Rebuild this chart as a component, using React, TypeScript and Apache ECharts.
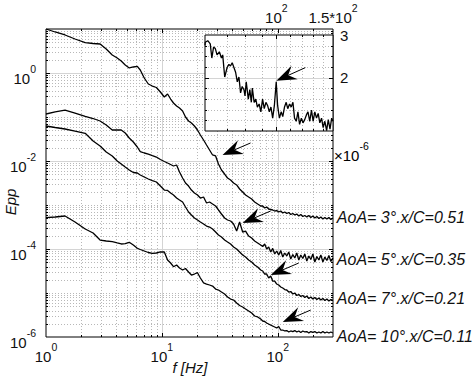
import React, { useEffect, useRef } from "react";
import * as echarts from "echarts";

const FONT = '"Liberation Sans", Arial, Helvetica, sans-serif';

// frequency grid (Hz) shared by the four spectra
const freqHz = [
  1, 1.2, 1.46, 1.78, 2.18, 2.55, 2.93, 3.31, 3.73, 4.12,
  4.46, 4.83, 5.23, 5.67, 6.14, 6.51, 7.05, 7.64, 8.28, 8.97,
  9.71, 10.5, 11.2, 11.9, 12.6, 13.4, 14.2, 15.1, 16.0, 17.0,
  18.0, 19.1, 20.3, 21.5, 22.9, 24.3, 25.8, 27.4, 29.1, 30.8,
  32.7, 34.8, 36.9, 39.2, 41.6, 44.2, 46.9, 49.8, 52.8, 56.1,
  59.6, 63.2, 67.1, 71.3, 74.2, 77.2, 80.3, 83.6, 87.0, 90.5,
  94.2, 98.0, 102, 106.2, 110.5, 115, 119.7, 124.5, 129.6, 134.9,
  140.4, 146, 152, 158.2, 164.6, 171.3, 178.3, 185.5, 193.1, 200.9,
  209.1, 217.7, 226.5, 235.7, 245.3, 255.3, 265.6, 276.4, 287.6, 299,
];

const eppAoA3 = [
  10, 8.55, 7.31, 5.93, 4.88, 4.68, 4.56, 3.51, 2.57, 2.19,
  1.87, 1.52, 1.30, 1.37, 1.41, 1.17, 0.770, 0.562, 0.506, 0.468,
  0.370, 0.285, 0.333, 0.256, 0.208, 0.178, 0.160, 0.137, 0.100, 0.0811,
  0.0730, 0.0624, 0.0506, 0.0390, 0.0300, 0.0231, 0.0178, 0.0137, 0.0130, 0.00855,
  0.00624, 0.00506, 0.00411, 0.00370, 0.00316, 0.00285, 0.00231, 0.00197, 0.00169, 0.00152,
  0.00137, 0.00117, 0.00105, 0.000949, 0.000949, 0.000855, 0.000901, 0.000811, 0.000790, 0.000770,
  0.000730, 0.000750, 0.000693, 0.000730, 0.000658, 0.000693, 0.000641, 0.000675, 0.000608, 0.000641,
  0.000593, 0.000624, 0.000562, 0.000608, 0.000548, 0.000577, 0.000534, 0.000577, 0.000520, 0.000562,
  0.000506, 0.000548, 0.000493, 0.000534, 0.000480, 0.000520, 0.000480, 0.000520, 0.000468, 0.000506,
];

const eppAoA5 = [
  0.117, 0.130, 0.144, 0.123, 0.103, 0.0924, 0.0811, 0.0658, 0.0506, 0.0506,
  0.0506, 0.0433, 0.0333, 0.0270, 0.0208, 0.0164, 0.0152, 0.0144, 0.0133, 0.0123,
  0.0108, 0.00974, 0.00901, 0.00833, 0.00770, 0.00811, 0.00562, 0.00411, 0.00316, 0.00270,
  0.00219, 0.00187, 0.00169, 0.00144, 0.00152, 0.00111, 0.00117, 0.00105, 0.000949, 0.000770,
  0.000624, 0.000506, 0.000456, 0.000433, 0.000370, 0.000256, 0.000411, 0.000243, 0.000256, 0.000197,
  0.000178, 0.000152, 0.000137, 0.000123, 0.000114, 0.000130, 0.000100, 0.000111, 0.0000855, 0.000103,
  0.0000770, 0.0000901, 0.0000730, 0.0000924, 0.0000658, 0.0000811, 0.0000693, 0.0000855, 0.0000593, 0.0000750,
  0.0000624, 0.0000811, 0.0000562, 0.0000730, 0.0000608, 0.0000770, 0.0000534, 0.0000693, 0.0000577, 0.0000770,
  0.0000506, 0.0000675, 0.0000562, 0.0000730, 0.0000506, 0.0000658, 0.0000548, 0.0000711, 0.0000520, 0.0000624,
];

const eppAoA7 = [
  0.0624, 0.0577, 0.0534, 0.0480, 0.0426, 0.0285, 0.0219, 0.0160, 0.0130, 0.0100,
  0.00855, 0.00730, 0.00624, 0.00548, 0.00534, 0.00480, 0.00433, 0.00390, 0.00360, 0.00333,
  0.00270, 0.00219, 0.00214, 0.00187, 0.00169, 0.00144, 0.00130, 0.00117, 0.000901, 0.000693,
  0.000593, 0.000506, 0.000456, 0.000411, 0.000370, 0.000333, 0.000316, 0.000285, 0.000243, 0.000208,
  0.000187, 0.000160, 0.000144, 0.000130, 0.000111, 0.000100, 0.0000855, 0.0000730, 0.0000658, 0.0000562,
  0.0000506, 0.0000433, 0.0000390, 0.0000333, 0.0000316, 0.0000270, 0.0000270, 0.0000219, 0.0000243, 0.0000187,
  0.0000187, 0.0000160, 0.0000152, 0.0000137, 0.0000130, 0.0000120, 0.0000117, 0.0000105, 0.0000108, 0.00000949,
  0.0000100, 0.00000877, 0.00000924, 0.00000833, 0.00000877, 0.00000790, 0.00000855, 0.00000750, 0.00000811, 0.00000730,
  0.00000790, 0.00000711, 0.00000770, 0.00000693, 0.00000750, 0.00000675, 0.00000730, 0.00000658, 0.00000711, 0.00000693,
];

const eppAoA10 = [
  0.000515, 0.000534, 0.000562, 0.000411, 0.000285, 0.000231, 0.000160, 0.000152, 0.000147, 0.000137,
  0.000130, 0.000133, 0.000142, 0.000123, 0.000104, 0.0000974, 0.0000901, 0.0000833, 0.0000799, 0.0000811,
  0.0000855, 0.0000855, 0.0000562, 0.0000480, 0.0000396, 0.0000433, 0.0000370, 0.0000333, 0.0000360, 0.0000300,
  0.0000256, 0.0000270, 0.0000289, 0.0000219, 0.0000169, 0.0000160, 0.0000152, 0.0000144, 0.0000123, 0.0000117,
  0.0000105, 0.00000949, 0.00000811, 0.00000730, 0.00000693, 0.00000593, 0.00000520, 0.00000480, 0.00000433, 0.00000390,
  0.00000351, 0.00000300, 0.00000285, 0.00000256, 0.00000231, 0.00000225, 0.00000208, 0.00000197, 0.00000187, 0.00000178,
  0.00000169, 0.00000160, 0.00000173, 0.00000144, 0.00000144, 0.00000137, 0.00000140, 0.00000130, 0.00000137, 0.00000133,
  0.00000140, 0.00000130, 0.00000137, 0.00000127, 0.00000137, 0.00000130, 0.00000133, 0.00000123, 0.00000133, 0.00000127,
  0.00000133, 0.00000123, 0.00000130, 0.00000123, 0.00000133, 0.00000123, 0.00000130, 0.00000123, 0.00000130, 0.00000123,
];

const curveLabels = [
  "AoA= 3°.x/C=0.51",
  "AoA= 5°.x/C=0.35",
  "AoA= 7°.x/C=0.21",
  "AoA= 10°.x/C=0.11",
];

// inset: zoom on the AoA=10° spectrum (Epp in units of 1e-6)
const insetFreqHz = [
  60.0, 60.1, 61.2, 62.3, 63.0, 63.8, 64.6, 65.4, 66.5, 67.5,
  68.1, 69.1, 70.3, 71.2, 72.0, 72.9, 73.8, 74.7, 75.6, 76.5,
  77.4, 78.3, 79.3, 79.9, 80.6, 81.8, 82.7, 83.6, 84.2, 85.3,
  86.3, 87.3, 88.4, 89.5, 90.6, 91.7, 92.8, 93.9, 95.1, 96.2,
  97.4, 98.6, 99.9, 100.9, 102.2, 103.5, 104.7, 106.0, 107.3, 108.5,
  109.9, 111.2, 112.6, 113.9, 115.3, 116.7, 118.1, 119.6, 121.0, 122.5,
  124.0, 125.4, 127.0, 128.6, 130.1, 131.7, 133.3, 134.9, 136.5, 138.2,
  139.8, 141.5, 143.3, 145.0, 146.8, 148.6, 150.0,
];
const insetEpp = [
  2.756, 2.829, 2.867, 2.793, 2.46, 2.718, 2.682, 2.533, 2.607, 2.46,
  2.533, 2.016, 2.238, 2.311, 2.273, 2.349, 2.238, 2.127, 1.904, 2.016,
  1.644, 1.793, 1.718, 1.571, 1.904, 1.496, 1.718, 1.422, 1.756, 1.422,
  1.496, 1.311, 1.384, 1.2, 1.496, 1.273, 1.422, 1.349, 1.2, 1.311,
  1.051, 1.349, 1.904, 1.349, 1.051, 1.2, 1.089, 1.311, 1.422, 1.273,
  1.384, 1.311, 1.422, 1.051, 0.978, 1.2, 0.904, 1.051, 0.94, 1.016,
  1.127, 1.2, 0.978, 1.238, 0.978, 1.2, 1.051, 1.162, 0.94, 1.051,
  0.829, 0.978, 0.756, 1.016, 0.793, 1.051, 0.978,
];

// axis ranges
const mainXRange = [1, 300];
const mainYRange = [1e-6, 10];
const insetXRange = [60, 150];
const insetYRange = [0.75, 3];
const insetYStep = 0.25;

// arrow tips (data coordinates)
const arrowTipsMain = [
  [33.4, 0.0137],
  [49.8, 3.9e-4],
  [87.0, 2.56e-5],
  [110.5, 2.19e-6],
];
const arrowTipInset = [100, 1.93];

type GL = { v: number; major: boolean };

function logLines(e0: number, e1: number, lo: number, hi: number, isMajor: (k: number, e: number) => boolean): GL[] {
  const out: GL[] = [];
  for (let e = e0; e <= e1; e++) {
    for (let k = 1; k <= 9; k++) {
      const v = k * Math.pow(10, e);
      if (v <= lo * 1.0001 || v >= hi * 0.9999) continue;
      out.push({ v, major: isMajor(k, e) });
    }
  }
  return out;
}

const mainXLines = logLines(0, 2, mainXRange[0], mainXRange[1], (k) => k === 1);
const mainYLines = logLines(-6, 0, mainYRange[0], mainYRange[1], (k, e) => k === 1 && e % 2 === 0);
const insetXLines: GL[] = [70, 80, 90, 100, 110, 120, 130, 140].map((v) => ({ v, major: v === 100 }));
const insetYLines: GL[] = [];
for (let v = insetYRange[0] + insetYStep; v < insetYRange[1] - 1e-9; v += insetYStep) {
  insetYLines.push({ v, major: Math.abs(v - 2) < 1e-9 });
}

const MAJOR_STYLE = { stroke: "#d4d4d4", lineWidth: 1 };
const MINOR_STYLE = { stroke: "#b8b8b8", lineWidth: 1, lineDash: [1, 2] };
const TICK_STYLE = { stroke: "#000", lineWidth: 1 };

function gridRenderer(xs: GL[], ys: GL[], xr: number[], yr: number[]) {
  return (_params: any, api: any) => {
    const [left, bottom] = api.coord([xr[0], yr[0]]);
    const [right, top] = api.coord([xr[1], yr[1]]);
    const ch: any[] = [];
    const seg = (x1: number, y1: number, x2: number, y2: number, style: any) =>
      ch.push({ type: "line", shape: { x1, y1, x2, y2 }, style });
    for (const g of xs) {
      const x = Math.round(api.coord([g.v, yr[0]])[0]) + 0.5;
      seg(x, top, x, bottom, g.major ? MAJOR_STYLE : MINOR_STYLE);
    }
    for (const g of ys) {
      const y = Math.round(api.coord([xr[0], g.v])[1]) + 0.5;
      seg(left, y, right, y, g.major ? MAJOR_STYLE : MINOR_STYLE);
    }
    for (const g of xs) {
      const x = Math.round(api.coord([g.v, yr[0]])[0]) + 0.5;
      const t = g.major ? 4 : 2;
      seg(x, bottom, x, bottom - t, TICK_STYLE);
      seg(x, top, x, top + t, TICK_STYLE);
    }
    for (const g of ys) {
      const y = Math.round(api.coord([xr[0], g.v])[1]) + 0.5;
      const t = g.major ? 4 : 2;
      seg(left, y, left + t, y, TICK_STYLE);
      seg(right, y, right - t, y, TICK_STYLE);
    }
    return { type: "group", children: ch };
  };
}

const supRich = {
  b: { fontSize: 15, fontFamily: FONT, color: "#111", lineHeight: 15, padding: [10, 0, 0, 0] },
  s: { fontSize: 10.5, fontFamily: FONT, color: "#111", lineHeight: 10.5, padding: [0, 0, 8.5, 0] },
};

function decadeLabel(v: number, evenOnly: boolean) {
  const lg = Math.log10(v);
  const e = Math.round(lg);
  if (Math.abs(lg - e) > 1e-6) return "";
  if (evenOnly && e % 2 !== 0) return "";
  return `{b|10}{s|${e}}`;
}

const curveData = [eppAoA3, eppAoA5, eppAoA7, eppAoA10];
const labelOffsets = [[0, -1], [0, 1], [0, -2], [0, 3]];

function buildOption(): any {
  return {
    animation: false,
    backgroundColor: "#fff",
    grid: [
      { left: 46, top: 29, width: 287, height: 308, show: true, borderColor: "#000", borderWidth: 1, backgroundColor: "transparent", z: 0 },
      { left: 205, top: 29, width: 128, height: 102, show: true, borderColor: "#000", borderWidth: 1, backgroundColor: "#fff", z: 1 },
    ],
    xAxis: [
      {
        type: "log", logBase: 10, gridIndex: 0, min: mainXRange[0], max: mainXRange[1], position: "bottom",
        axisLine: { show: false }, axisTick: { show: false }, splitLine: { show: false },
        axisLabel: { formatter: (v: number) => decadeLabel(v, false), margin: 7, rich: supRich },
      },
      {
        type: "log", logBase: 10, gridIndex: 1, min: insetXRange[0], max: insetXRange[1], position: "top",
        axisLine: { show: false }, axisTick: { show: false }, splitLine: { show: false },
        axisLabel: {
          margin: 15, rich: supRich,
          formatter: (v: number) => {
            if (Math.abs(v - 100) < 0.01) return "{b|10}{s|2}";
            if (Math.abs(v - 150) < 0.01) return "{b|1.5*10}{s|2}";
            return "";
          },
        },
      },
    ],
    yAxis: [
      {
        type: "log", logBase: 10, gridIndex: 0, min: mainYRange[0], max: mainYRange[1],
        axisLine: { show: false }, axisTick: { show: false }, splitLine: { show: false },
        axisLabel: { formatter: (v: number) => decadeLabel(v, true), margin: 10, rich: supRich },
      },
      {
        type: "value", gridIndex: 1, min: insetYRange[0], max: insetYRange[1], interval: insetYStep, position: "right",
        axisLine: { show: false }, axisTick: { show: false }, splitLine: { show: false },
        axisLabel: {
          margin: 7, fontSize: 15, lineHeight: 13, padding: [3, 0, 0, 0], fontFamily: FONT, color: "#111",
          formatter: (v: number) => (Math.abs(v - 2) < 1e-9 || Math.abs(v - 3) < 1e-9 ? String(v) : ""),
        },
      },
    ],
    series: [
      {
        type: "custom", xAxisIndex: 0, yAxisIndex: 0, z: 0, silent: true,
        data: [[mainXRange[0], mainYRange[0]]],
        renderItem: gridRenderer(mainXLines, mainYLines, mainXRange, mainYRange),
      },
      {
        type: "custom", xAxisIndex: 1, yAxisIndex: 1, z: 2, silent: true,
        data: [[insetXRange[0], insetYRange[0]]],
        renderItem: gridRenderer(insetXLines, insetYLines, insetXRange, insetYRange),
      },
      ...curveData.map((vals, i) => ({
        type: "line", xAxisIndex: 0, yAxisIndex: 0, z: 3, showSymbol: false, silent: true,
        data: freqHz.map((f, j) => [f, vals[j]]),
        lineStyle: { color: "#000", width: 1.3 },
        endLabel: {
          show: true, formatter: () => curveLabels[i], distance: 4, offset: labelOffsets[i],
          color: "#111", fontFamily: FONT, fontStyle: "italic", fontSize: 16,
        },
      })),
      {
        type: "line", xAxisIndex: 1, yAxisIndex: 1, z: 3, showSymbol: false, silent: true,
        data: insetFreqHz.map((f, j) => [f, insetEpp[j]]),
        lineStyle: { color: "#000", width: 1.3 },
      },
    ],
  };
}

function arrow(tip: number[], dx: number, dy: number): any[] {
  const len = Math.hypot(dx, dy);
  const ux = dx / len, uy = dy / len;
  const nx = -uy, ny = ux;
  const L = 20, W = 7.5, N = 13;
  const bx = tip[0] + ux * L, by = tip[1] + uy * L;
  const pts = [
    [tip[0], tip[1]],
    [bx + nx * W, by + ny * W],
    [tip[0] + ux * N, tip[1] + uy * N],
    [bx - nx * W, by - ny * W],
  ];
  return [
    { type: "line", z: 10, silent: true, shape: { x1: tip[0] + ux * N, y1: tip[1] + uy * N, x2: tip[0] + dx, y2: tip[1] + dy }, style: { stroke: "#000", lineWidth: 1 } },
    { type: "polygon", z: 10, silent: true, shape: { points: pts }, style: { fill: "#000" } },
  ];
}

export default function App() {
  const ref = useRef<HTMLDivElement>(null);
  useEffect(() => {
    document.body.style.margin = "0";
    const chart = echarts.init(ref.current!, null, { renderer: "svg" });
    chart.setOption(buildOption());
    const graphics: any[] = [];
    for (const t of arrowTipsMain) {
      const p = chart.convertToPixel({ gridIndex: 0 } as any, t) as unknown as number[];
      graphics.push(...arrow(p, 28, -12));
    }
    const pi = chart.convertToPixel({ gridIndex: 1 } as any, arrowTipInset) as unknown as number[];
    graphics.push(...arrow(pi, 29, -13));
    graphics.push({
      type: "text", x: 10, y: 202, rotation: Math.PI / 2, z: 10, silent: true,
      style: { text: "Epp", fontSize: 15, fontFamily: FONT, fontStyle: "italic", fill: "#111", align: "center", verticalAlign: "middle", textAlign: "center", textVerticalAlign: "middle" },
    });
    graphics.push({
      type: "text", x: 190, y: 367, z: 10, silent: true,
      style: { text: "f [Hz]", fontSize: 15, fontFamily: FONT, fontStyle: "italic", fill: "#111", align: "center", verticalAlign: "middle", textAlign: "center", textVerticalAlign: "middle" },
    });
    graphics.push({
      type: "text", x: 334, y: 150, z: 10, silent: true,
      style: { text: "{b|×10}{s|-6}", rich: supRich, align: "left", verticalAlign: "middle", textAlign: "left", textVerticalAlign: "middle" },
    });
    chart.setOption({ graphic: graphics });
    return () => chart.dispose();
  }, []);
  return <div ref={ref} style={{ width: 474, height: 381 }} />;
}
